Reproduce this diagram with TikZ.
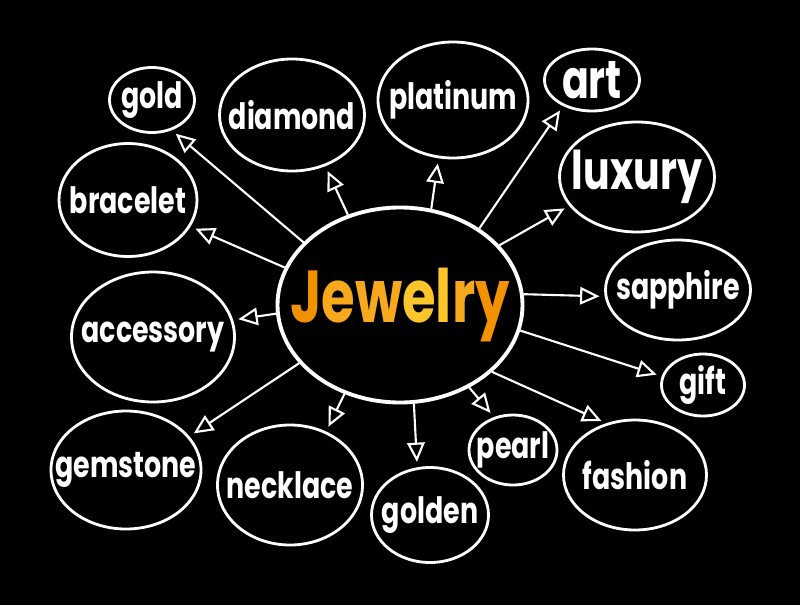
\documentclass[tikz,border=0pt]{standalone}
\usepackage{graphicx}
\usepackage{fontspec}
\setmainfont{Poppins}
\usetikzlibrary{shapes.geometric,arrows.meta}

\definecolor{jwA}{HTML}{F39200}
\definecolor{jwB}{HTML}{F7A81D}
\definecolor{jwC}{HTML}{FBC52B}
\newcommand{\tall}[1]{\scalebox{1}[1.35]{#1}}

\begin{document}
\begin{tikzpicture}[x=0.02cm,y=-0.02cm,
    bubble/.style 2 args={ellipse,draw=white,line width=1.6pt,inner sep=0pt,
        minimum width=#1*0.02cm,minimum height=#2*0.02cm},
    word/.style={text=white,font=\bfseries\fontsize{15.3}{15.3}\selectfont},
    big/.style={text=white,font=\bfseries\fontsize{22.5}{22.5}\selectfont},
    link/.style={draw=white,line width=1.2pt,shorten >=3pt,
        -{Triangle[open,length=11pt,width=10pt,line width=1.2pt]}}]
    \fill[black] (0,0) rectangle (800,605);
    \useasboundingbox (0,0) rectangle (800,605);
    % central idea
    \node[bubble={245}{195},line width=2.2pt,
        label={[font=\bfseries\fontsize{31}{31}\selectfont]center:\tall{%
        \textcolor{jwA}{J}\textcolor{jwB}{e}\textcolor{jwB}{w}\textcolor{jwC}{e}\textcolor{jwC}{l}\textcolor{jwB}{r}\textcolor{jwA}{y}}}]
        (jew) at (400,305) {};
    % branches
    \node[bubble={85}{65},label={[word]center:\tall{gold}}]         (gold)      at (152,100) {};
    \node[bubble={145}{112},label={[word]center:\tall{diamond}}]    (diamond)   at (292,115) {};
    \node[bubble={150}{116},label={[word]center:\tall{platinum}}]   (platinum)  at (453,100) {};
    \node[bubble={95}{62},label={[big]center:\tall{art}}]           (art)       at (592,80)  {};
    \node[bubble={155}{110},label={[big]center:\tall{luxury}}]      (luxury)    at (637,177) {};
    \node[bubble={138}{113},label={[word]center:\tall{bracelet}}]   (bracelet)  at (128,200) {};
    \node[bubble={145}{100},label={[word]center:\tall{sapphire}}]   (sapphire)  at (678,290) {};
    \node[bubble={163}{130},label={[word]center:\tall{accessory}}]  (accessory) at (153,337) {};
    \node[bubble={83}{62},label={[word]center:\tall{gift}}]         (gift)      at (703,385) {};
    \node[bubble={150}{118},label={[word]center:\tall{gemstone}}]   (gemstone)  at (126,470) {};
    \node[bubble={145}{120},label={[word]center:\tall{necklace}}]   (necklace)  at (290,485) {};
    \node[bubble={117}{95},label={[word]center:\tall{golden}}]      (golden)    at (430,515) {};
    \node[bubble={88}{70},label={[word]center:\tall{pearl}}]        (pearl)     at (513,450) {};
    \node[bubble={143}{110},label={[word]center:\tall{fashion}}]    (fashion)   at (635,475) {};
    \foreach \a/\t/\b in {147/gold/-57, 162/bracelet/-23, 120/diamond/-57,
            72/platinum/-104, 44/art/-138, 31/luxury/203, 5/sapphire/185,
            184/accessory/12, -12/gift/168, 210/gemstone/28, 238/necklace/56,
            -82/golden/105, -50/pearl/120, -36/fashion/119}
        \draw[link] (jew.\a) -- (\t.\b);
\end{tikzpicture}
\end{document}
